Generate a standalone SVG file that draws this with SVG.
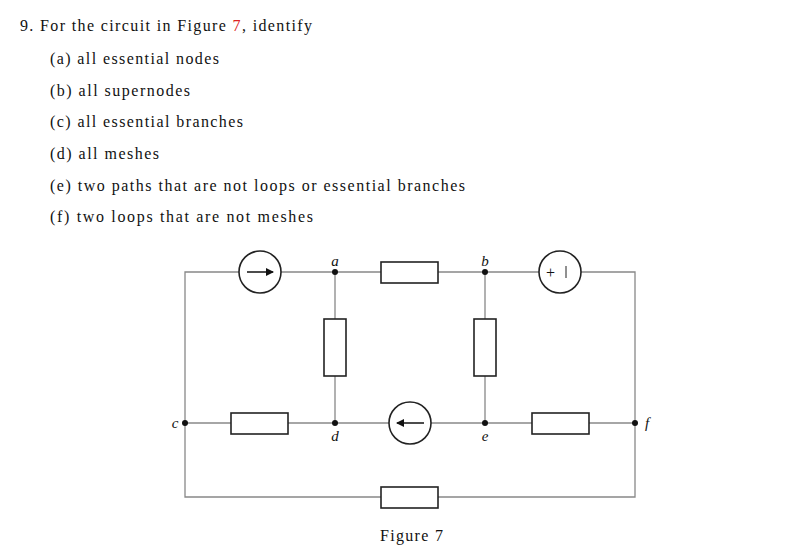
<svg xmlns="http://www.w3.org/2000/svg" width="812" height="555" viewBox="0 0 812 555">
<style>
.t{font-family:"Liberation Serif",serif;font-size:16px;fill:#111}
.l{font-family:"Liberation Serif",serif;font-size:15px;font-style:italic;fill:#111}
.w{stroke:#888;stroke-width:1.3;fill:none}
.c{stroke:#222;stroke-width:1.6;fill:#fff}
</style>
<defs><marker id="ah" markerWidth="8" markerHeight="8" refX="7" refY="4" orient="auto" markerUnits="userSpaceOnUse"><path d="M0,0 L8,4 L0,8z" fill="#111"/></marker></defs>
<rect width="812" height="555" fill="#fff"/>
<text class="t" x="20" y="31" textLength="292" lengthAdjust="spacing">9. For the circuit in Figure <tspan fill="#d22">7</tspan>, identify</text>
<text class="t" x="50" y="64" textLength="169" lengthAdjust="spacing">(a) all essential nodes</text>
<text class="t" x="50" y="96" textLength="140" lengthAdjust="spacing">(b) all supernodes</text>
<text class="t" x="50" y="127" textLength="193" lengthAdjust="spacing">(c) all essential branches</text>
<text class="t" x="50" y="159" textLength="109" lengthAdjust="spacing">(d) all meshes</text>
<text class="t" x="50" y="191" textLength="415" lengthAdjust="spacing">(e) two paths that are not loops or essential branches</text>
<text class="t" x="50" y="222" textLength="263" lengthAdjust="spacing">(f) two loops that are not meshes</text>
<g id="wires">
<path class="w" d="M185,272 H635 V497 H185 Z"/>
<path class="w" d="M185,423 H635"/>
<path class="w" d="M335,272 V423 M485,272 V423"/>
</g>
<g id="src1"><circle class="c" cx="260" cy="272" r="21"/><line x1="247" y1="272" x2="273" y2="272" stroke="#111" stroke-width="1.5" marker-end="url(#ah)"/></g>
<g id="r_ab"><rect class="c" x="381" y="262" width="57" height="21"/></g>
<g id="vsrc"><circle class="c" cx="560" cy="272" r="21"/><text class="t" x="546" y="278" font-size="15">+</text><line x1="566" y1="266" x2="566" y2="278" stroke="#222" stroke-width="1"/></g>
<g id="r_ad"><rect class="c" x="324" y="319" width="22" height="57"/></g>
<g id="r_be"><rect class="c" x="474" y="319" width="22" height="57"/></g>
<g id="r_cd"><rect class="c" x="231" y="413" width="57" height="21"/></g>
<g id="src2"><circle class="c" cx="410" cy="423" r="21"/><line x1="424" y1="423" x2="397" y2="423" stroke="#111" stroke-width="1.5" marker-end="url(#ah)"/></g>
<g id="r_ef"><rect class="c" x="532" y="413" width="57" height="21"/></g>
<g id="r_cf"><rect class="c" x="381" y="487" width="57" height="21"/></g>
<g id="nodes" fill="#111">
<circle cx="335" cy="272" r="3"/><circle cx="485" cy="272" r="3"/>
<circle cx="185" cy="423" r="3"/><circle cx="335" cy="423" r="3"/>
<circle cx="485" cy="423" r="3"/><circle cx="635" cy="423" r="3"/>
</g>
<text class="l" x="335" y="266" text-anchor="middle">a</text>
<text class="l" x="485" y="266" text-anchor="middle">b</text>
<text class="l" x="175" y="428" text-anchor="middle">c</text>
<text class="l" x="335" y="441" text-anchor="middle">d</text>
<text class="l" x="485" y="441" text-anchor="middle">e</text>
<text class="l" x="647" y="428" text-anchor="middle">f</text>
<text class="t" x="380" y="541" textLength="63" lengthAdjust="spacing">Figure 7</text>
</svg>
